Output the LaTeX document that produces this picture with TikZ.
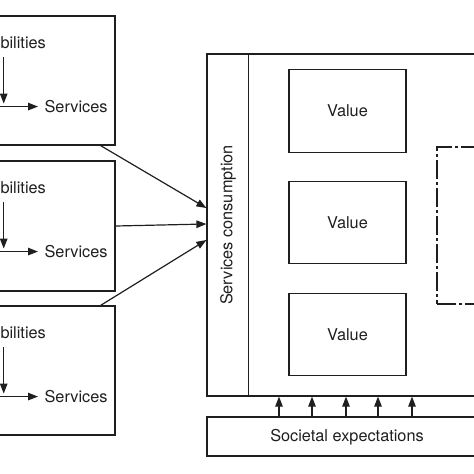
\documentclass[tikz,border=0pt]{standalone}
\usepackage{fontspec}
\setmainfont{TeX Gyre Heros}
\usetikzlibrary{arrows.meta,calc}

\begin{document}
\begin{tikzpicture}[x=1pt,y=-1pt,line width=1.2pt,color=black!88,
    box/.style={draw,inner sep=0pt},
    lbl/.style={font=\fontsize{16.3}{19}\selectfont,inner sep=0pt},
    arr/.style={-{Triangle[length=10pt,width=7.5pt]}}]
    \useasboundingbox (0,0) rectangle (474,474);
    \clip (0,0) rectangle (474,474);

    % Define the capability boxes
    \node[box,minimum width=215pt,minimum height=129pt] (cb1) at (7.5,80.5) {};
    \node[box,minimum width=215pt,minimum height=130pt] (cb2) at (7.5,226) {};
    \node[box,minimum width=215pt,minimum height=129pt] (cb3) at (7.5,370.5) {};

    % Label the capability boxes
    \node[lbl,anchor=base west] (cap1) at (-39,48) {Capabilities};
    \node[lbl,anchor=base west] (srv1) at (44,112.5) {Services};
    \node[lbl,anchor=base west] (cap2) at (-39,193) {Capabilities};
    \node[lbl,anchor=base west] (srv2) at (44,257.5) {Services};
    \node[lbl,anchor=base west] (cap3) at (-39,338) {Capabilities};
    \node[lbl,anchor=base west] (srv3) at (44,402.5) {Services};

    % Draw the arrows inside the capability boxes
    \draw[arr,shorten <=5pt,shorten >=3pt] (cap1.south) -- (cap1.south |- srv1.west);
    \draw[arr,shorten >=6pt] (-40,0 |- srv1.west) -- (srv1.west);
    \draw[arr,shorten <=5pt,shorten >=3pt] (cap2.south) -- (cap2.south |- srv2.west);
    \draw[arr,shorten >=6pt] (-40,0 |- srv2.west) -- (srv2.west);
    \draw[arr,shorten <=5pt,shorten >=3pt] (cap3.south) -- (cap3.south |- srv3.west);
    \draw[arr,shorten >=6pt] (-40,0 |- srv3.west) -- (srv3.west);

    % Draw the consumption box
    \node[box,minimum width=293pt,minimum height=342pt] (main) at (353.5,225) {};
    \draw ($(main.north west)+(42,0)$) -- ($(main.south west)+(42,0)$);
    \node[lbl,rotate=90] (cons) at (228,225) {Services consumption};

    % Draw the value boxes
    \node[box,lbl,minimum width=117pt,minimum height=82.5pt] (val1) at (347.5,111) {Value};
    \node[box,lbl,minimum width=117pt,minimum height=82.5pt] (val2) at (347.5,222.5) {Value};
    \node[box,lbl,minimum width=117pt,minimum height=82.5pt] (val3) at (347.5,334.5) {Value};

    % Draw the dash-dotted box
    \node[box,dash pattern=on 19pt off 3pt on 3pt off 3pt,minimum width=83pt,minimum height=157pt] (outc) at (478.5,225.5) {};

    % Draw the societal expectations box
    \node[box,minimum width=293pt,minimum height=39pt] (soc) at (353.5,436.5) {};
    \node[lbl] (socl) at (347,437) {Societal expectations};

    % Draw the arrows into the consumption box
    \draw[arr] ($(cb1.south east)+(-15,0)$) -- ($(main.west)+(0,-17)$);
    \draw[arr] (cb2.east) -- ($(main.west)+(0,-1)$);
    \draw[arr] ($(cb3.north east)+(-15,0)$) -- ($(main.west)+(0,15)$);

    % Draw the expectation arrows
    \draw[arr] (279,0 |- soc.north) -- (279,0 |- main.south);
    \draw[arr] (312,0 |- soc.north) -- (312,0 |- main.south);
    \draw[arr] (346,0 |- soc.north) -- (346,0 |- main.south);
    \draw[arr] (378,0 |- soc.north) -- (378,0 |- main.south);
    \draw[arr] (412,0 |- soc.north) -- (412,0 |- main.south);
\end{tikzpicture}
\end{document}
